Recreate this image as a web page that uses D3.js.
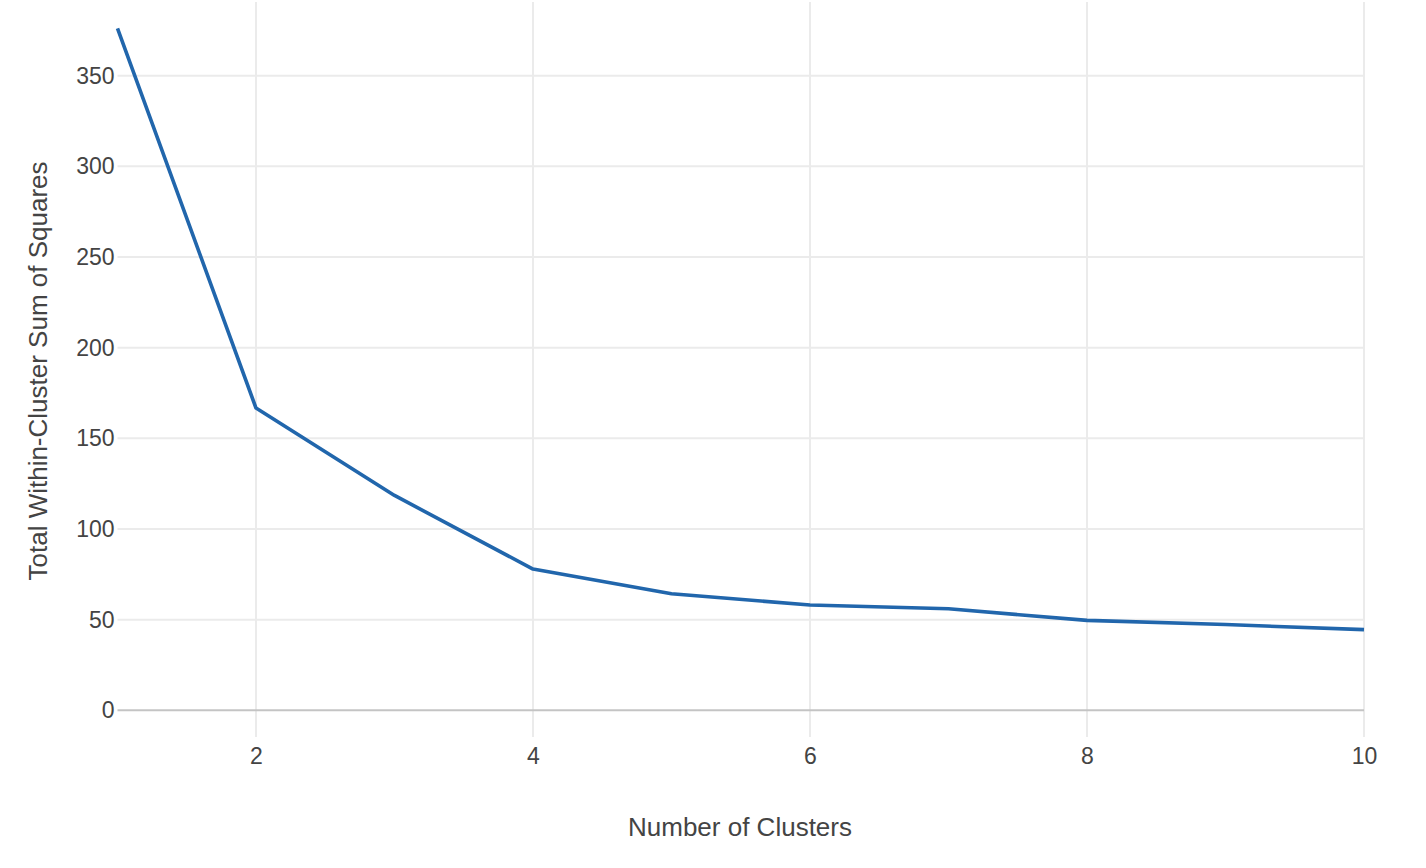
<!DOCTYPE html>
<html>
<head>
<meta charset="utf-8">
<script src="https://cdn.jsdelivr.net/npm/d3@7"></script>
<style>
  html, body { margin: 0; padding: 0; background: #fff; }
  svg { display: block; font-family: "Liberation Sans", Arial, Helvetica, sans-serif; }
  .tick text { fill: #444; font-size: 23px; }
  .axis-title { fill: #444; font-size: 26px; }
</style>
</head>
<body>
<svg id="chart" width="1426" height="868"></svg>
<script>
// Nombre de clusters (k) et inertie intra-cluster totale
const clusters = [1, 2, 3, 4, 5, 6, 7, 8, 9, 10];
const wss = [376, 166.7, 118.5, 77.9, 64.3, 58.1, 56.0, 49.6, 47.3, 44.5];
const xTicks = [2, 4, 6, 8, 10];
const yTicks = [0, 50, 100, 150, 200, 250, 300, 350];

const width = 1426, height = 868;
const margin = {top: 2, right: 62, bottom: 131, left: 117.5};

const svg = d3.select('#chart');

const x = d3.scaleLinear()
    .domain([1, 10])
    .range([margin.left, width - margin.right]);

const y = d3.scaleLinear()
    .domain([-14.7, 390.6])
    .range([height - margin.bottom, margin.top]);

// Grille verticale
svg.append('g')
    .selectAll('line')
    .data(xTicks)
    .join('line')
        .attr('x1', d => x(d)).attr('x2', d => x(d))
        .attr('y1', margin.top).attr('y2', height - margin.bottom)
        .attr('stroke', '#ebebeb')
        .attr('stroke-width', 2);

// Grille horizontale (ligne zéro plus foncée)
svg.append('g')
    .selectAll('line')
    .data(yTicks)
    .join('line')
        .attr('x1', margin.left).attr('x2', width - margin.right)
        .attr('y1', d => y(d)).attr('y2', d => y(d))
        .attr('stroke', d => d === 0 ? '#c4c4c4' : '#ebebeb')
        .attr('stroke-width', 2);

// Axes (texte seulement)
const xAxis = svg.append('g')
    .attr('transform', `translate(0,${height - margin.bottom})`)
    .call(d3.axisBottom(x).tickValues(xTicks).tickSize(0).tickPadding(11));
xAxis.select('.domain').remove();

const yAxis = svg.append('g')
    .attr('transform', `translate(${margin.left},0)`)
    .call(d3.axisLeft(y).tickValues(yTicks).tickSize(0).tickPadding(3));
yAxis.select('.domain').remove();

// Courbe
const line = d3.line()
    .x((d, i) => x(clusters[i]))
    .y(d => y(d));

svg.append('path')
    .datum(wss)
    .attr('fill', 'none')
    .attr('stroke', '#2166ac')
    .attr('stroke-width', 3.6)
    .attr('stroke-linejoin', 'round')
    .attr('d', line);

// Titres
svg.append('text')
    .attr('class', 'axis-title')
    .attr('x', 740)
    .attr('y', 836)
    .attr('text-anchor', 'middle')
    .text('Number of Clusters');

svg.append('text')
    .attr('class', 'axis-title')
    .attr('transform', 'translate(47,371) rotate(-90)')
    .attr('text-anchor', 'middle')
    .text('Total Within-Cluster Sum of Squares');
</script>
</body>
</html>
